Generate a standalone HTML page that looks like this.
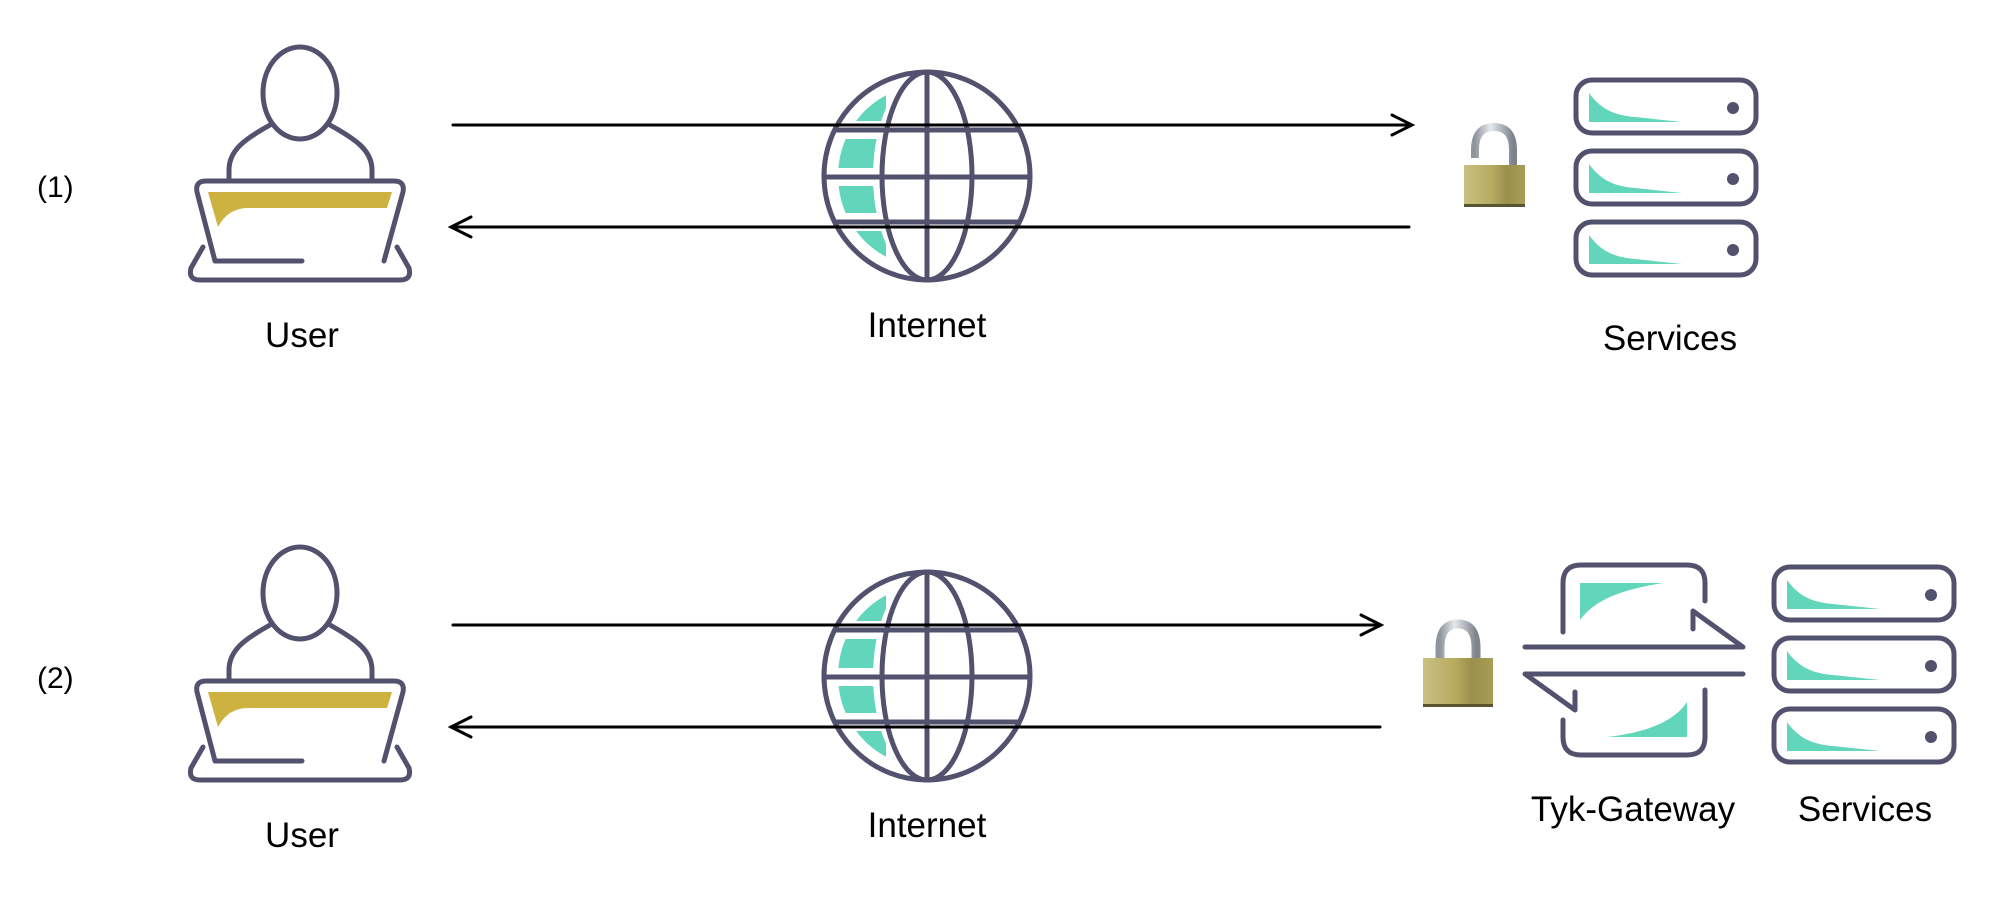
<!DOCTYPE html>
<html><head><meta charset="utf-8"><style>html,body{margin:0;padding:0;background:#fff}svg{display:block}text{font-family:"Liberation Sans",sans-serif;fill:#000}</style></head>
<body>
<svg width="2000" height="898" viewBox="0 0 2000 898" xmlns="http://www.w3.org/2000/svg">
<defs>
<linearGradient id="gold" x1="0" x2="1" y1="0" y2="0">
<stop offset="0" stop-color="#c9c080"/><stop offset="0.45" stop-color="#b8ac62"/><stop offset="0.7" stop-color="#9a8f4c"/><stop offset="1" stop-color="#a79d58"/></linearGradient>
<linearGradient id="silver" x1="0" x2="1"><stop offset="0" stop-color="#8e959c"/><stop offset="0.4" stop-color="#e6e9ec"/><stop offset="1" stop-color="#7d848b"/></linearGradient>
<clipPath id="lefthalf"><rect x="800" y="60" width="86" height="240"/></clipPath>
<g id="user" fill="none" stroke="#52516e" stroke-width="5" stroke-linecap="round" stroke-linejoin="round">
<path d="M208 192 L392 192 L387 208 L248 208 Q228 208 218 227 Z" fill="#cdb23f" stroke="none"/>
<ellipse cx="300" cy="93" rx="37" ry="46"/>
<path d="M270 125 C245 139 229 150 229 170 L229 180 M330 125 C355 139 372 150 372 170 L372 180"/>
<path d="M302 261 L215 261 L197 192 Q195 181 206 181 L394 181 Q405 181 403 192 L384 261"/>
<path d="M203 247 L191 268 Q188 280 200 280 L400 280 Q412 280 409 268 L397 247"/>
</g>
<g id="globe">
<path clip-path="url(#lefthalf)" fill="#62d6ba" fill-rule="evenodd" d="M838 176 a89 91 0 1 0 178 0 a89 91 0 1 0 -178 0 Z M873 176 a54 104 0 1 0 108 0 a54 104 0 1 0 -108 0 Z"/>
<g stroke="#fff" stroke-width="18"><line x1="830" y1="130" x2="1024" y2="130"/><line x1="820" y1="177" x2="1034" y2="177"/><line x1="830" y1="222" x2="1024" y2="222"/></g>
<g fill="none" stroke="#52516e" stroke-width="5">
<ellipse cx="927" cy="176" rx="103" ry="104"/>
<ellipse cx="927" cy="176" rx="45" ry="104"/>
<line x1="927" y1="72" x2="927" y2="280"/>
<line x1="835" y1="130" x2="1019" y2="130"/><line x1="824" y1="177" x2="1030" y2="177"/><line x1="835" y1="222" x2="1019" y2="222"/>
</g></g>
<g id="servers">
<g fill="none" stroke="#52516e" stroke-width="5">
<rect x="1576" y="80" width="180" height="53" rx="16"/><rect x="1576" y="151" width="180" height="53" rx="16"/><rect x="1576" y="222" width="180" height="53" rx="16"/></g>
<g fill="#62d6ba">
<path d="M1589 93 C1600 108 1612 115 1635 117 L1682 122 L1589 122 Z"/>
<path transform="translate(0,71)" d="M1589 93 C1600 108 1612 115 1635 117 L1682 122 L1589 122 Z"/>
<path transform="translate(0,142)" d="M1589 93 C1600 108 1612 115 1635 117 L1682 122 L1589 122 Z"/></g>
<g fill="#52516e"><circle cx="1733" cy="108" r="6"/><circle cx="1733" cy="179" r="6"/><circle cx="1733" cy="250" r="6"/></g>
</g>
</defs>

<text x="37" y="197" font-size="30">(1)</text>
<text x="37" y="688" font-size="30">(2)</text>

<use href="#user"/>
<use href="#user" transform="translate(0,500)"/>
<use href="#globe"/>
<use href="#globe" transform="translate(0,500)"/>
<use href="#servers"/>
<use href="#servers" transform="translate(198,487)"/>

<g fill="none" stroke="#000" stroke-width="3" stroke-linecap="round">
<line x1="453" y1="125" x2="1410" y2="125"/><path d="M1392 115 L1412 125 L1392 135"/>
<line x1="451" y1="227" x2="1409" y2="227"/><path d="M471 217 L451 227 L471 237"/>
<line x1="453" y1="625" x2="1379" y2="625"/><path d="M1361 615 L1381 625 L1361 635"/>
<line x1="451" y1="727" x2="1380" y2="727"/><path d="M471 717 L451 727 L471 737"/>
</g>

<path d="M1475 158 L1475 150 Q1475 127 1494 127 Q1513 127 1513 150 L1513 166" fill="none" stroke="url(#silver)" stroke-width="8"/>
<rect x="1464" y="165" width="61" height="42" fill="url(#gold)"/>
<rect x="1464" y="204" width="61" height="3" fill="#5a5330"/>
<path d="M1440 660 L1440 648 Q1440 624 1458 624 Q1476 624 1476 648 L1476 660" fill="none" stroke="url(#silver)" stroke-width="9"/>
<rect x="1423" y="658" width="70" height="49" fill="url(#gold)"/>
<rect x="1423" y="704" width="70" height="3" fill="#5a5330"/>

<path d="M1580 583 L1663 583 C1620 590 1595 600 1580 620 Z" fill="#62d6ba"/>
<path d="M1687 702 L1687 737 L1607 737 C1650 732 1675 720 1687 702 Z" fill="#62d6ba"/>
<g fill="none" stroke="#52516e" stroke-width="5" stroke-linecap="round" stroke-linejoin="round">
<path d="M1563 632 L1563 583 Q1563 565 1581 565 L1687 565 Q1705 565 1705 583 L1705 601"/>
<path d="M1525 647 L1743 647 L1693 611 L1693 629"/>
<path d="M1743 674 L1525 674 L1575 710 L1575 692"/>
<path d="M1563 720 L1563 737 Q1563 755 1581 755 L1687 755 Q1705 755 1705 737 L1705 690"/>
</g>

<g font-size="35" text-anchor="middle">
<text x="302" y="347">User</text>
<text x="927" y="337">Internet</text>
<text x="1670" y="350">Services</text>
<text x="302" y="847">User</text>
<text x="927" y="837">Internet</text>
<text x="1633" y="821">Tyk-Gateway</text>
<text x="1865" y="821">Services</text>
</g>
</svg>
</body></html>
